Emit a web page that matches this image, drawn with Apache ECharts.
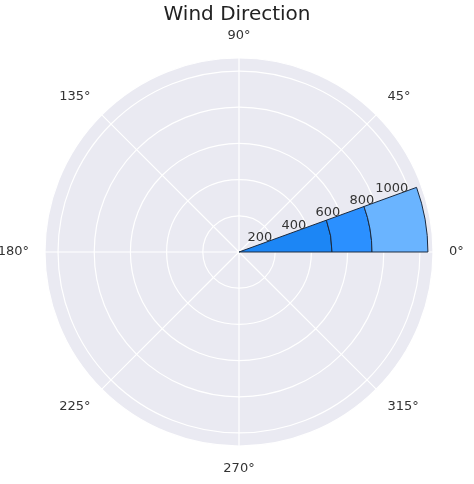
<!DOCTYPE html>
<html>
<head>
<meta charset="utf-8">
<script src="https://cdn.jsdelivr.net/npm/echarts@6/dist/echarts.min.js"></script>
<style>html,body{margin:0;padding:0;background:#fff}#chart{width:474px;height:484px}</style>
</head>
<body>
<div id="chart"></div>
<script>
// wind direction bins (20 degree sectors), only first one has data
var sectors = ['0', '20', '40', '60', '80', '100', '120', '140', '160', '180', '200', '220', '240', '260', '280', '300', '320', '340'];
var innerPart = [514, 0, 0, 0, 0, 0, 0, 0, 0, 0, 0, 0, 0, 0, 0, 0, 0, 0];
var middlePart = [221, 0, 0, 0, 0, 0, 0, 0, 0, 0, 0, 0, 0, 0, 0, 0, 0, 0];
var outerPart = [309, 0, 0, 0, 0, 0, 0, 0, 0, 0, 0, 0, 0, 0, 0, 0, 0, 0];
var radiusMax = 1072;

var chart = echarts.init(document.getElementById('chart'));
var cx = 239, cy = 252, R = 194;
var lbl = {color: '#333', fontSize: 13, fontFamily: 'DejaVu Sans'};

var seg = function (name, data, color) {
  return {
    name: name, type: 'bar', coordinateSystem: 'polar', polarIndex: 1, stack: 'wind',
    data: data, barWidth: '100%', barCategoryGap: 0,
    itemStyle: {color: color, borderColor: '#1a2a40', borderWidth: 1}
  };
};

chart.setOption({
  animation: false,
  title: {text: 'Wind Direction', left: 'center', top: 0,
    textStyle: {fontSize: 20, fontWeight: 'normal', color: '#222', fontFamily: 'DejaVu Sans'}},
  graphic: [{type: 'circle', shape: {cx: cx, cy: cy, r: R}, style: {fill: '#eaeaf2'}, z: -10}],
  polar: [
    {center: [cx, cy], radius: R},
    {center: [cx, cy], radius: R}
  ],
  angleAxis: [
    {polarIndex: 0, type: 'value', min: 0, max: 360, interval: 45, startAngle: 0, clockwise: false,
      axisLine: {show: false}, axisTick: {show: false},
      axisLabel: Object.assign({margin: 16, formatter: function (v) { return v === 360 ? '' : v + '°'; }}, lbl),
      splitLine: {show: true, lineStyle: {color: '#fff', width: 1.2}}},
    {polarIndex: 1, type: 'category', data: sectors, startAngle: 20, clockwise: true,
      axisLine: {show: false}, axisTick: {show: false}, axisLabel: {show: false}, splitLine: {show: false}}
  ],
  radiusAxis: [
    {polarIndex: 0, min: 0, max: radiusMax, interval: 200,
      axisLine: {show: false}, axisTick: {show: false}, axisLabel: {show: false},
      splitLine: {show: true, lineStyle: {color: '#fff', width: 1.2}}},
    {polarIndex: 1, min: 0, max: radiusMax, interval: 200, z: 20,
      axisLine: {show: false}, axisTick: {show: false}, splitLine: {show: false},
      axisLabel: Object.assign({formatter: function (v) { return v === 0 ? '' : v; }, margin: 2}, lbl)}
  ],
  series: [
    seg('inner', innerPart, '#1c86f5'),
    seg('middle', middlePart, '#2b90ff'),
    seg('outer', outerPart, '#6ab4ff')
  ]
});
</script>
</body>
</html>
